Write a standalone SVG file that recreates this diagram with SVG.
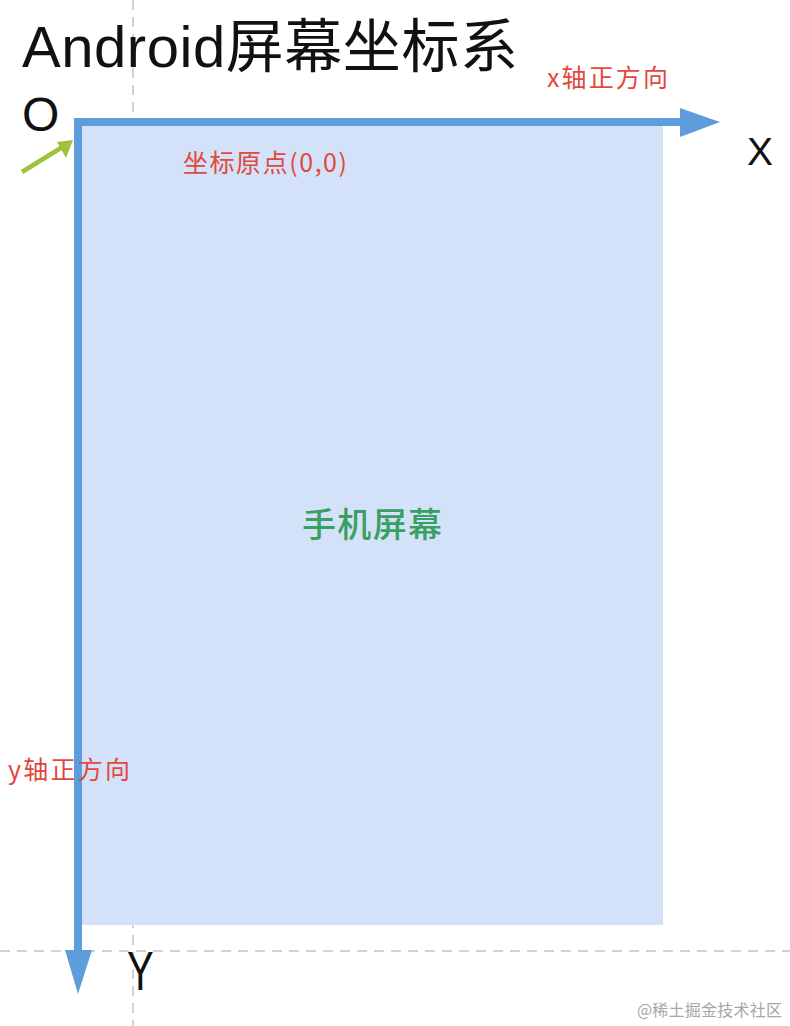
<svg xmlns="http://www.w3.org/2000/svg" width="790" height="1026" viewBox="0 0 790 1026">
<defs>
<style>
.dash{stroke:#c4c4c4;stroke-width:1.5;stroke-dasharray:10 7;fill:none}
.axis{stroke:#5e9ddc;stroke-width:8;fill:none}
.head{fill:#5e9ddc}
.blk{font-family:"Liberation Sans","Noto Sans CJK SC",sans-serif;fill:#111}
.red{font-family:"Noto Sans CJK SC","Liberation Sans",sans-serif;fill:#e2483c;font-size:25px}
</style>
</defs>
<rect width="790" height="1026" fill="#ffffff"/>
<g id="guides">
<line class="dash" x1="133" y1="0" x2="133" y2="1026"/>
<line class="dash" x1="0" y1="951" x2="790" y2="951"/>
</g>
<g id="screen">
<rect x="78" y="122" width="585" height="803" fill="#d3e2f8"/>
<text x="302" y="537" font-family="Noto Sans CJK SC,sans-serif" font-size="34" font-weight="500" fill="#3b9e62" textLength="140">手机屏幕</text>
</g>
<g id="connectors">
<line class="axis" x1="74" y1="122" x2="684" y2="122"/>
<polygon class="head" points="680,108 720,122 680,137"/>
<line class="axis" x1="78" y1="118" x2="78" y2="954"/>
<polygon class="head" points="65,950 92,950 78,994"/>
<line x1="22" y1="172" x2="64" y2="146" stroke="#9dc33b" stroke-width="4.5"/>
<polygon points="73,140 57,142 66,158" fill="#9dc33b"/>
</g>
<g id="title">
<text class="blk" x="22" y="67" font-size="58" textLength="496">Android屏幕坐标系</text>
</g>
<g id="origin-O">
<text class="blk" x="22" y="131" font-size="48">O</text>
</g>
<g id="label-X">
<text class="blk" x="747" y="165" font-size="39">X</text>
</g>
<g id="label-Y">
<text class="blk" font-size="47" transform="translate(127,990) scale(0.85,1.2)">Y</text>
</g>
<g id="x-positive">
<text class="red" x="547" y="87" textLength="121">x轴正方向</text>
</g>
<g id="origin-label">
<text class="red" x="183" y="172" textLength="164">坐标原点(0,0)</text>
</g>
<g id="y-positive">
<text class="red" x="8" y="779" textLength="122">y轴正方向</text>
</g>
<g id="watermark">
<text x="637" y="1016" font-family="Noto Sans CJK SC,sans-serif" font-size="16" fill="#a6a6a6" textLength="145">@稀土掘金技术社区</text>
</g>
</svg>
